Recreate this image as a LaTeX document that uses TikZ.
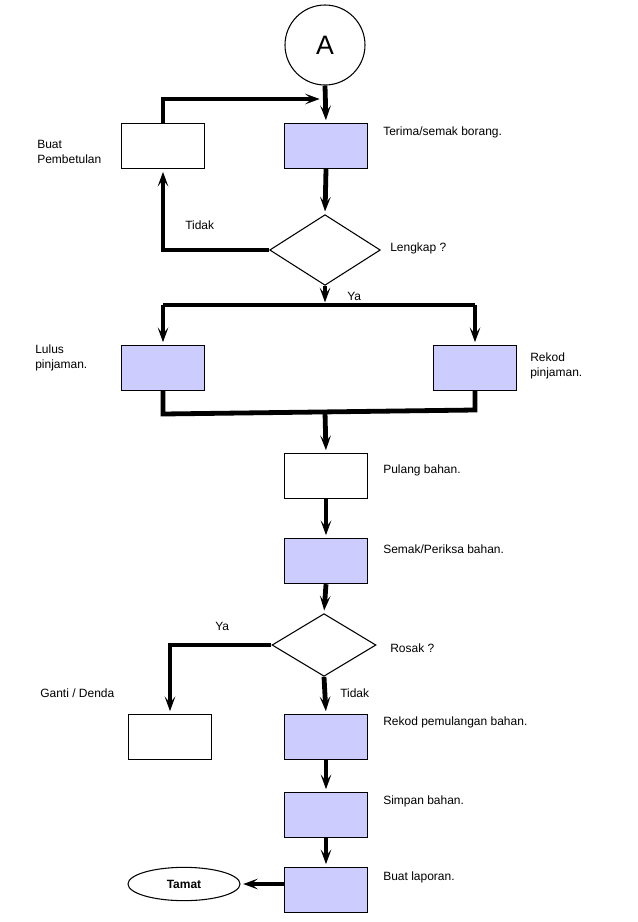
\documentclass[tikz,border=0pt]{standalone}
\usepackage{fontspec}
\setmainfont{Liberation Sans}
\usetikzlibrary{arrows.meta,shapes.geometric}
\definecolor{lav}{HTML}{CCCCFF}
\begin{document}
\begin{tikzpicture}[x=0.75pt,y=-0.75pt,
  box/.style={draw,line width=0.8pt,minimum width=62pt,minimum height=34pt,inner sep=0pt},
  fbox/.style={box,fill=lav},
  dia/.style={draw,diamond,line width=0.8pt,aspect=1.6,inner sep=0pt},
  con/.style={line width=3.6pt,-{Stealth[length=11pt,width=8pt,inset=5pt]},shorten >=2pt},
  ln/.style={line width=3.6pt},
  lab/.style={font=\fontsize{9}{11}\selectfont,anchor=west,align=left,inner sep=0pt}]
\useasboundingbox (0,0) rectangle (638,922);
\node[draw,ellipse,line width=0.8pt,minimum width=60pt,minimum height=60pt,font=\fontsize{20}{22}\selectfont] (A) at (325,45) {A};
\node[box] (buat) at (163,146) {};
\node[fbox] (terima) at (326,146) {};
\node[dia,minimum width=83pt,minimum height=53pt] (lengkap) at (325,250) {};
\node[fbox] (lulus) at (163,368) {};
\node[fbox] (rekod) at (475,368) {};
\node[box] (pulang) at (326,476) {};
\node[fbox] (semak) at (326,561) {};
\node[dia,minimum width=78pt,minimum height=47pt] (rosak) at (324,645) {};
\node[box] (ganti) at (170,737) {};
\node[fbox] (rekpem) at (326,737) {};
\node[fbox] (simpan) at (326,815) {};
\node[fbox] (lapor) at (326,890) {};
\node[draw,ellipse,line width=0.8pt,minimum width=84pt,minimum height=25pt,font=\fontsize{9}{11}\selectfont\bfseries] (tamat) at (184,884) {Tamat};
\coordinate (j1) at (325,305);
\coordinate (j2) at (325,412);
% connectors
\draw[con] (A.south) -- (terima.north);
\draw[con] (buat.north) |- ([xshift=-2pt]A.south |- 0,99);
\draw[con] (terima.south) -- (lengkap.north);
\draw[con] (lengkap.west) -| (buat.south);
\draw[con] (lengkap.south) -- (j1);
\draw[ln] (lulus.north |- j1) -- (rekod.north |- j1);
\draw[con] (lulus.north |- j1) -- (lulus.north);
\draw[con] (rekod.north |- j1) -- (rekod.north);
\draw[ln] (lulus.south) -- (lulus.south |- 0,414) -- (rekod.south |- 0,410) -- (rekod.south);
\draw[con] (j2) -- (pulang.north);
\draw[con] (pulang.south) -- (semak.north);
\draw[con] (semak.south) -- (rosak.north);
\draw[con] (rosak.west) -| (ganti.north);
\draw[con] (rosak.south) -- (rekpem.north);
\draw[con] (rekpem.south) -- (simpan.north);
\draw[con] (simpan.south) -- (lapor.north);
\draw[con] (lapor.west |- tamat) -- (tamat.east);
% labels
\node[lab] (l1) at (383,132) {Terima/semak borang.};
\node[lab] (l2) at (37,152) {Buat\\Pembetulan};
\node[lab] (l3) at (185,225) {Tidak};
\node[lab] (l4) at (390,248) {Lengkap ?};
\node[lab] (l5) at (347,296) {Ya};
\node[lab] (l6) at (35,358) {Lulus\\pinjaman.};
\node[lab] (l7) at (530,366) {Rekod\\pinjaman.};
\node[lab] (l8) at (383,470) {Pulang bahan.};
\node[lab] (l9) at (383,549) {Semak/Periksa bahan.};
\node[lab] (l10) at (215,626) {Ya};
\node[lab] (l11) at (390,648) {Rosak ?};
\node[lab] (l12) at (40,693) {Ganti / Denda};
\node[lab] (l13) at (340,693) {Tidak};
\node[lab] (l14) at (383,722) {Rekod pemulangan bahan.};
\node[lab] (l15) at (383,801) {Simpan bahan.};
\node[lab] (l16) at (383,877) {Buat laporan.};
\end{tikzpicture}
\end{document}
